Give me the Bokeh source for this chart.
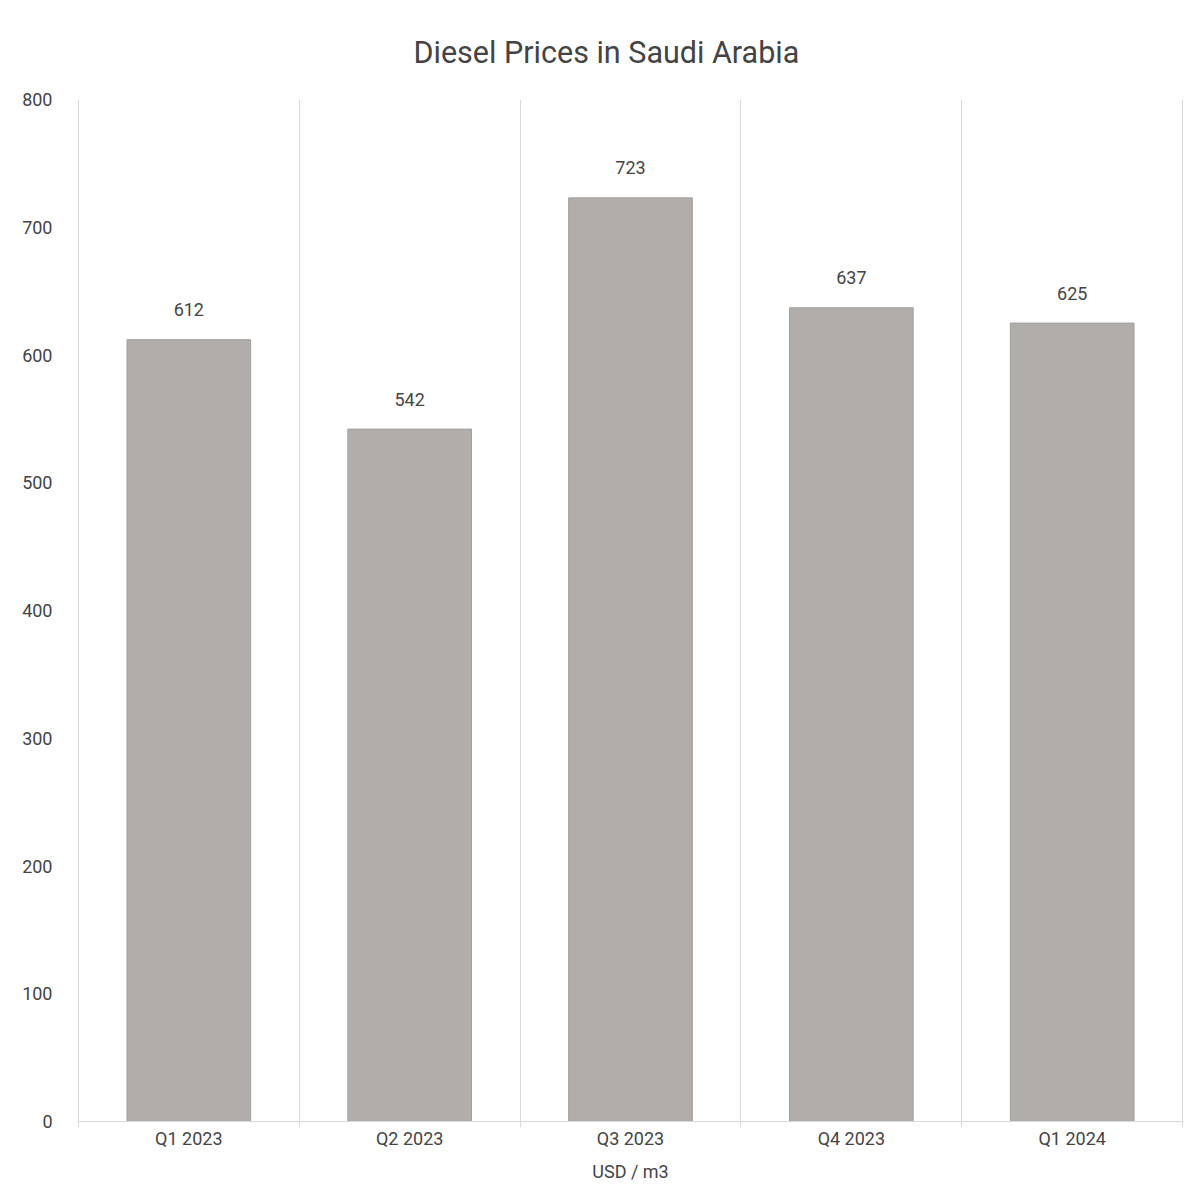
from bokeh.plotting import figure
from bokeh.models import Range1d, FixedTicker, ColumnDataSource
from bokeh.core.properties import value
from bokeh.embed import file_html
from bokeh.resources import INLINE

quarters = ["Q1 2023", "Q2 2023", "Q3 2023", "Q4 2023", "Q1 2024"]
prices = [612, 542, 723, 637, 625]
y_ticks = [0, 100, 200, 300, 400, 500, 600, 700, 800]

FONT = "Roboto"
TXT = "#444444"

xs = [i + 0.5 for i in range(len(quarters))]
src = ColumnDataSource(dict(x=xs, top=prices, label=[str(v) for v in prices]))

n = len(quarters)
p = figure(width=1184, height=1184, output_backend="svg", toolbar_location=None,
           x_range=Range1d(-0.004, n + 0.004), y_range=Range1d(0, 800),
           min_border_left=77, min_border_right=1, min_border_top=99, min_border_bottom=61)

p.title.text = "Diesel Prices in Saudi Arabia"
p.title.align = "left"
p.title.offset = 336
p.title.text_font = FONT
p.title.text_font_size = "30.5px"
p.title.text_font_style = "normal"
p.title.text_color = TXT
p.title.standoff = 59

p.vbar(x="x", top="top", width=0.56, bottom=0, source=src,
       fill_color="#b0adab", line_color="#a3a09e", line_width=1)
p.text(x="x", y="top", text="label", source=src, text_align="center",
       text_baseline="alphabetic", y_offset=-30, text_font=value(FONT),
       text_font_size="18px", text_color=TXT)

p.outline_line_color = None
p.background_fill_color = "white"
p.border_fill_color = "white"

# grid at category boundaries
p.ygrid.grid_line_color = None
p.xgrid.ticker = FixedTicker(ticks=list(range(n + 1)))
p.xgrid.grid_line_color = "#d9d9d9"
p.xgrid.grid_line_width = 1

xa = p.xaxis[0]
xa.ticker = FixedTicker(ticks=xs, minor_ticks=list(range(n + 1)))
xa.major_label_overrides = {x: q for x, q in zip(xs, quarters)}
xa.major_tick_line_color = None
xa.minor_tick_line_color = "#d9d9d9"
xa.minor_tick_out = 6
xa.minor_tick_in = 0
xa.axis_line_color = "#d9d9d9"
xa.major_label_standoff = 0
xa.major_label_text_font = FONT
xa.major_label_text_font_size = "18px"
xa.major_label_text_color = TXT
xa.axis_label = "USD / m3"
xa.axis_label_text_font = FONT
xa.axis_label_text_font_size = "18px"
xa.axis_label_text_font_style = "normal"
xa.axis_label_text_color = TXT
xa.axis_label_standoff = 9

ya = p.yaxis[0]
ya.ticker = FixedTicker(ticks=y_ticks)
ya.axis_line_color = None
ya.major_tick_line_color = None
ya.minor_tick_line_color = None
ya.major_label_standoff = 19
ya.major_label_text_font = FONT
ya.major_label_text_font_size = "18px"
ya.major_label_text_color = TXT

open("out.html", "w").write(file_html(p, INLINE))
